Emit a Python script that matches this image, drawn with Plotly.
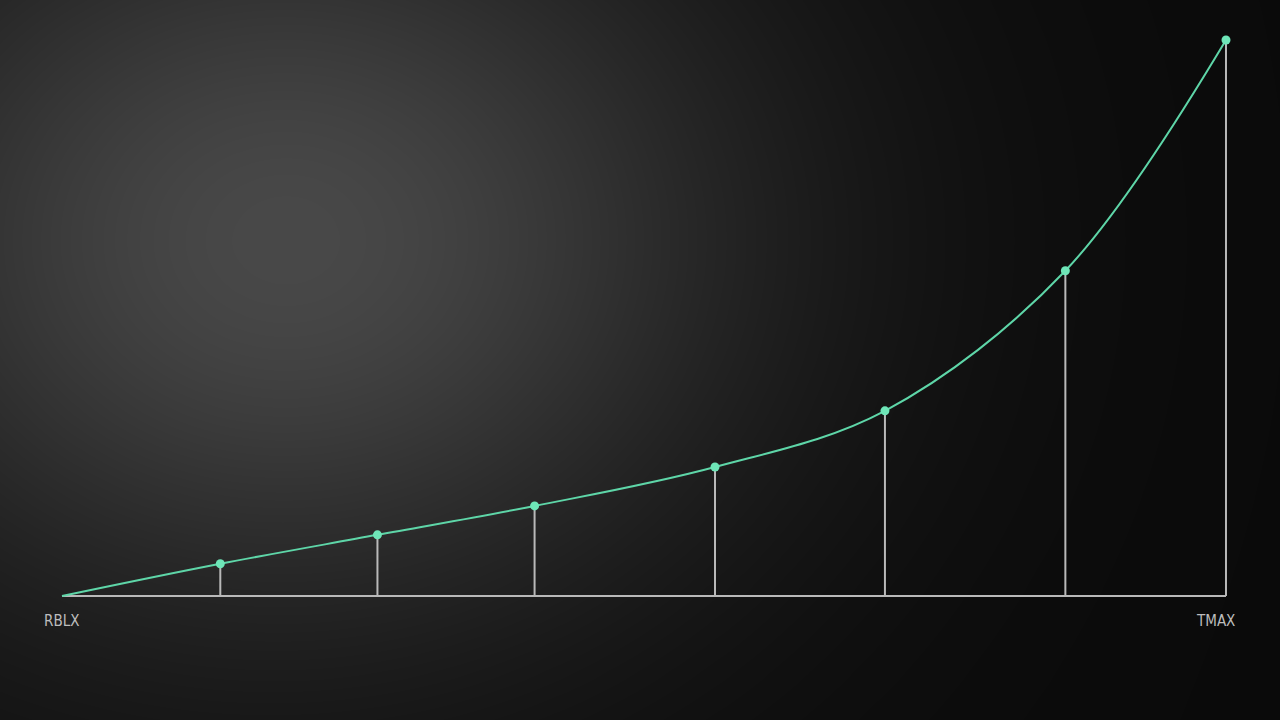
import numpy as np
import plotly.graph_objects as go

# data
x_vals = [0.0, 1.36, 2.71, 4.06, 5.61, 7.07, 8.62, 10.0]
y_vals = [0.0, 5.8, 11.0, 16.2, 23.2, 33.3, 58.5, 100.0]
start_label = "RBLX"
end_label = "TMAX"

X0, X1 = -0.5326, 10.464
Y0, Y1 = -22.30, 107.19

# background radial glow (styling)
gx = np.linspace(X0, X1, 160)
gy = np.linspace(Y0, Y1, 90)
GX, GY = np.meshgrid(gx, gy)
px = (GX - X0) / (X1 - X0) * 1280
py = (Y1 - GY) / (Y1 - Y0) * 720
d = np.sqrt(((px - 290) / 560) ** 2 + ((py - 240) / 460) ** 2)
glow = 13 + 60 * np.exp(-d ** 2 * 1.5)
glow = glow - 3 * (px / 1280)

fig = go.Figure()
fig.add_trace(go.Heatmap(x=gx, y=gy, z=glow, colorscale=[[0, "rgb(0,0,0)"], [1, "rgb(255,255,255)"]],
                         zmin=0, zmax=255, showscale=False, hoverinfo="skip", zsmooth="best"))

# baseline
fig.add_trace(go.Scatter(x=[x_vals[0], x_vals[-1]], y=[0, 0], mode="lines",
                         line=dict(color="#b9b9b9", width=2), hoverinfo="skip", showlegend=False))
# drop lines
for xv, yv in zip(x_vals[1:], y_vals[1:]):
    fig.add_trace(go.Scatter(x=[xv, xv], y=[0, yv], mode="lines",
                             line=dict(color="#b9b9b9", width=2), hoverinfo="skip", showlegend=False))
# curve
fig.add_trace(go.Scatter(x=x_vals, y=y_vals, mode="lines", line=dict(color="#5ed6a8", width=2, shape="spline", smoothing=1.0),
                         showlegend=False))
fig.add_trace(go.Scatter(x=x_vals[1:], y=y_vals[1:], mode="markers",
                         marker=dict(color="#6ee6b8", size=9), showlegend=False))

fig.add_annotation(x=x_vals[0], y=-4.5, text=start_label, showarrow=False, xanchor="center",
                   font=dict(family="Liberation Sans Narrow, DejaVu Sans Condensed, sans-serif", size=15, color="#bdbdbd"))
fig.add_annotation(x=x_vals[-1] - 0.09, y=-4.5, text=end_label, showarrow=False, xanchor="center",
                   font=dict(family="Liberation Sans Narrow, DejaVu Sans Condensed, sans-serif", size=15, color="#bdbdbd"))

fig.update_layout(width=1280, height=720, margin=dict(l=0, r=0, t=0, b=0),
                  paper_bgcolor="#141414", plot_bgcolor="#141414", showlegend=False,
                  xaxis=dict(range=[X0, X1], visible=False, showgrid=False, zeroline=False),
                  yaxis=dict(range=[Y0, Y1], visible=False, showgrid=False, zeroline=False))

fig.write_html("out.html", config={"displayModeBar": False},
               post_script="document.body.style.margin='0';document.body.style.background='#141414';document.body.style.overflow='hidden';")
